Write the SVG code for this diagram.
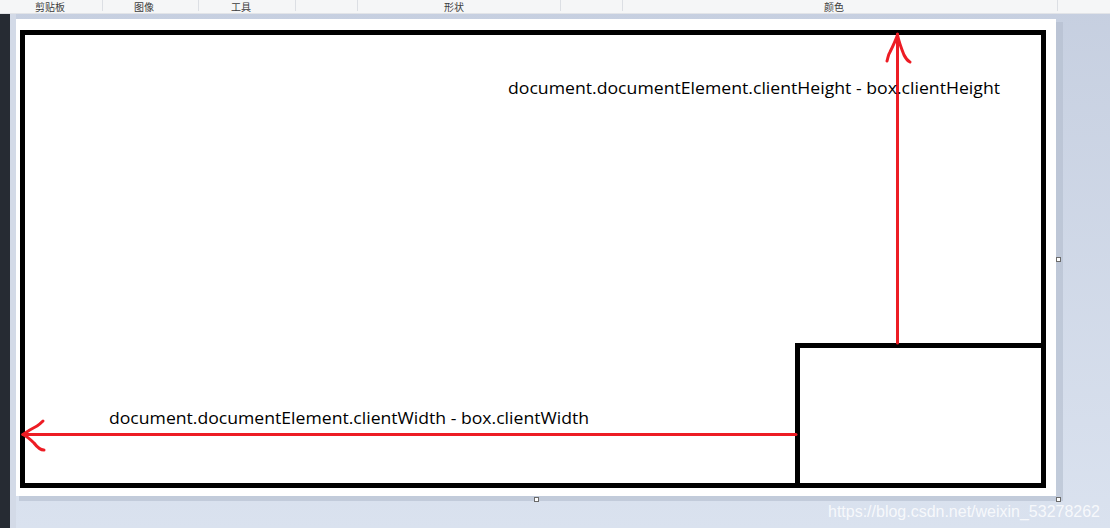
<svg xmlns="http://www.w3.org/2000/svg" width="1110" height="528" viewBox="0 0 1110 528">
<defs>
<linearGradient id="bg" x1="0" y1="0" x2="0" y2="1">
<stop offset="0" stop-color="#c6cfe0"/>
<stop offset="1" stop-color="#dae2ef"/>
</linearGradient>
<style>
.tb{font-family:"Noto Sans CJK SC","Noto Sans",sans-serif;font-size:10px;fill:#3c3c3c}
.sep{stroke:#dcdfe4;stroke-width:1}
.box{fill:none;stroke:#000;stroke-width:5}
.red{fill:none;stroke:#ed1c24;stroke-width:3;stroke-linecap:round;stroke-linejoin:round}
.lbl{font-family:"Open Sans","Noto Sans",sans-serif;font-size:16.5px;fill:#000}
.handle{fill:#fff;stroke:#6a6a6a;stroke-width:1}
</style>
</defs>
<rect x="0" y="0" width="1110" height="528" fill="url(#bg)"/>
<rect x="0" y="14" width="10" height="514" fill="#262b33"/>
<rect x="10" y="14" width="6" height="514" fill="#d3dae7"/>
<g id="toolbar">
<rect x="0" y="0" width="1110" height="13" fill="#f5f6f7"/>
<line x1="0" y1="13.5" x2="1110" y2="13.5" stroke="#e2e4e8"/>
<g class="sep">
<line x1="102.5" y1="0" x2="102.5" y2="11"/>
<line x1="198.5" y1="0" x2="198.5" y2="11"/>
<line x1="295.5" y1="0" x2="295.5" y2="11"/>
<line x1="357.5" y1="0" x2="357.5" y2="11"/>
<line x1="560.5" y1="0" x2="560.5" y2="11"/>
<line x1="622.5" y1="0" x2="622.5" y2="11"/>
<line x1="1057.5" y1="0" x2="1057.5" y2="11"/>
</g>
<text class="tb" x="35" y="10.5">剪贴板</text>
<text class="tb" x="134" y="10.5">图像</text>
<text class="tb" x="231" y="10.5">工具</text>
<text class="tb" x="444" y="10.5">形状</text>
<text class="tb" x="824" y="10.5">颜色</text>
</g>
<rect x="19" y="22" width="1044" height="479" fill="#b3bccd" opacity="0.6"/>
<rect x="16" y="19" width="1040" height="477" fill="#fff"/>
<g id="outer-box"><rect class="box" x="22.5" y="32.5" width="1021" height="453"/></g>
<g id="inner-box"><rect class="box" x="797.5" y="345.5" width="246" height="140"/></g>
<g id="connectors">
<path class="red" d="M897.5 343 L897.5 34"/>
<path class="red" d="M897.5 35 C895 42 892 48 890 52 C888 55 888 58 887 61"/>
<path class="red" d="M897.5 35 C899 42 902 50 904 55 C906 59 908 61 910 62"/>
<path class="red" d="M796 434.5 L23 434.5"/>
<path class="red" d="M23 434.5 C28 431 33 428 37 426 C40 424 42 422 43 421"/>
<path class="red" d="M23 434.5 C28 437 31 440 34 443 C37 447 40 450 44 450"/>
</g>
<g id="labels">
<text class="lbl" x="508" y="94" textLength="492" lengthAdjust="spacingAndGlyphs">document.documentElement.clientHeight - box.clientHeight</text>
<text class="lbl" x="109" y="424" textLength="480" lengthAdjust="spacingAndGlyphs">document.documentElement.clientWidth - box.clientWidth</text>
</g>
<rect class="handle" x="1056.5" y="257.5" width="4" height="4"/>
<rect class="handle" x="534.5" y="497.5" width="4" height="4"/>
<rect class="handle" x="1056.5" y="497.5" width="4" height="4"/>
<text x="828" y="517" font-family="Liberation Sans,Arial,sans-serif" font-size="16" fill="#ffffff" fill-opacity="0.8" textLength="272" lengthAdjust="spacingAndGlyphs">https://blog.csdn.net/weixin_53278262</text>
</svg>
